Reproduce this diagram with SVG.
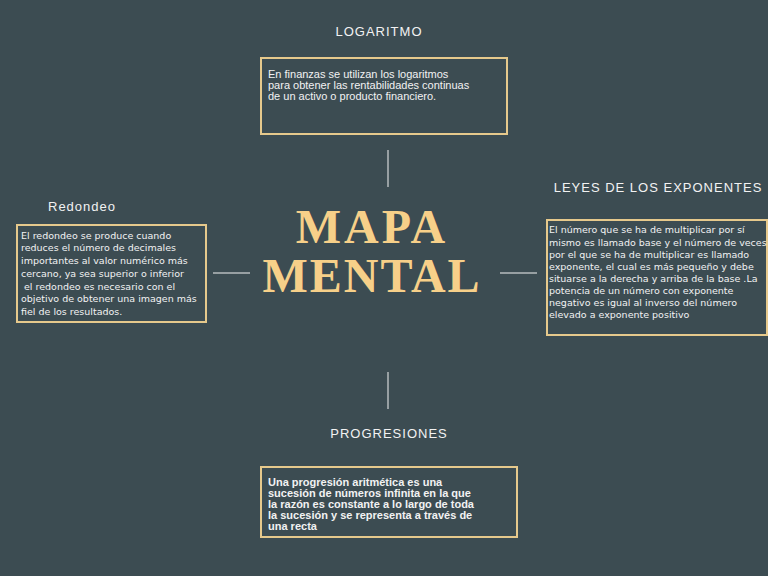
<svg xmlns="http://www.w3.org/2000/svg" width="768" height="576" viewBox="0 0 768 576">
<style>
.box{fill:none;stroke:#e6c98c;stroke-width:2}
.t{fill:#f2f2f2;font-family:"DejaVu Sans",sans-serif;font-size:9.5px}
.b{fill:#f2f2f2;font-family:"Liberation Sans",Arial,sans-serif;font-size:11px}
.h{fill:#f2f2f2;font-family:"Liberation Sans",Arial,sans-serif;font-size:13px;letter-spacing:1px}
.ln{stroke:#f2f2f2;stroke-width:1}
</style>
<rect width="768" height="576" fill="#3c4c52"/>
<g id="center"><text x="372" y="243" text-anchor="middle" font-family="Liberation Serif,serif" font-weight="bold" font-size="48" fill="#f7d089" letter-spacing="3">MAPA</text><text x="372" y="292" text-anchor="middle" font-family="Liberation Serif,serif" font-weight="bold" font-size="48" fill="#f7d089" letter-spacing="2">MENTAL</text></g>
<g id="connectors"><line class="ln" x1="388" y1="150" x2="388" y2="187"/><line class="ln" x1="388" y1="372" x2="388" y2="409"/><line class="ln" x1="213" y1="273" x2="250" y2="273"/><line class="ln" x1="500" y1="273" x2="537" y2="273"/></g>
<g id="logaritmo"><text class="h" x="379" y="36" text-anchor="middle">LOGARITMO</text><rect class="box" x="261" y="58" width="246" height="76"/><text class="b"><tspan x="268" y="78">En finanzas se utilizan los logaritmos</tspan><tspan x="268" y="89">para obtener las rentabilidades continuas</tspan><tspan x="268" y="100">de un activo o producto financiero.</tspan></text></g>
<g id="redondeo"><text class="h" x="82" y="211" text-anchor="middle" letter-spacing="0.5">Redondeo</text><rect class="box" x="17" y="225" width="189" height="97"/><text class="t"><tspan x="21" y="239"> El redondeo se produce cuando</tspan><tspan x="21" y="251">reduces el número de decimales</tspan><tspan x="21" y="264">importantes al valor numérico más</tspan><tspan x="21" y="277">cercano, ya sea superior o inferior</tspan><tspan x="21" y="290"> el redondeo es necesario con el</tspan><tspan x="21" y="302">objetivo de obtener una imagen más</tspan><tspan x="21" y="315">fiel de los resultados.</tspan></text></g>
<g id="leyes"><text class="h" x="658" y="192" text-anchor="middle" font-size="11">LEYES DE LOS EXPONENTES</text><rect class="box" x="547" y="220" width="220" height="115"/><text class="t"><tspan x="549" y="233">El número que se ha de multiplicar por sí</tspan><tspan x="549" y="246">mismo es llamado base y el número de veces</tspan><tspan x="549" y="258">por el que se ha de multiplicar es llamado</tspan><tspan x="549" y="270">exponente, el cual es más pequeño y debe</tspan><tspan x="549" y="282">situarse a la derecha y arriba de la base .La</tspan><tspan x="549" y="294">potencia de un número con exponente</tspan><tspan x="549" y="306">negativo es igual al inverso del número</tspan><tspan x="549" y="318">elevado a exponente positivo</tspan></text></g>
<g id="progresiones"><text class="h" x="389" y="438" text-anchor="middle">PROGRESIONES</text><rect class="box" x="261" y="467" width="256" height="70"/><text class="b" font-weight="bold"><tspan x="268" y="486">Una progresión aritmética es una</tspan><tspan x="268" y="497">sucesión de números infinita en la que</tspan><tspan x="268" y="508">la razón es constante a lo largo de toda</tspan><tspan x="268" y="519">la sucesión y se representa a través de</tspan><tspan x="268" y="530">una recta</tspan></text></g>
</svg>
